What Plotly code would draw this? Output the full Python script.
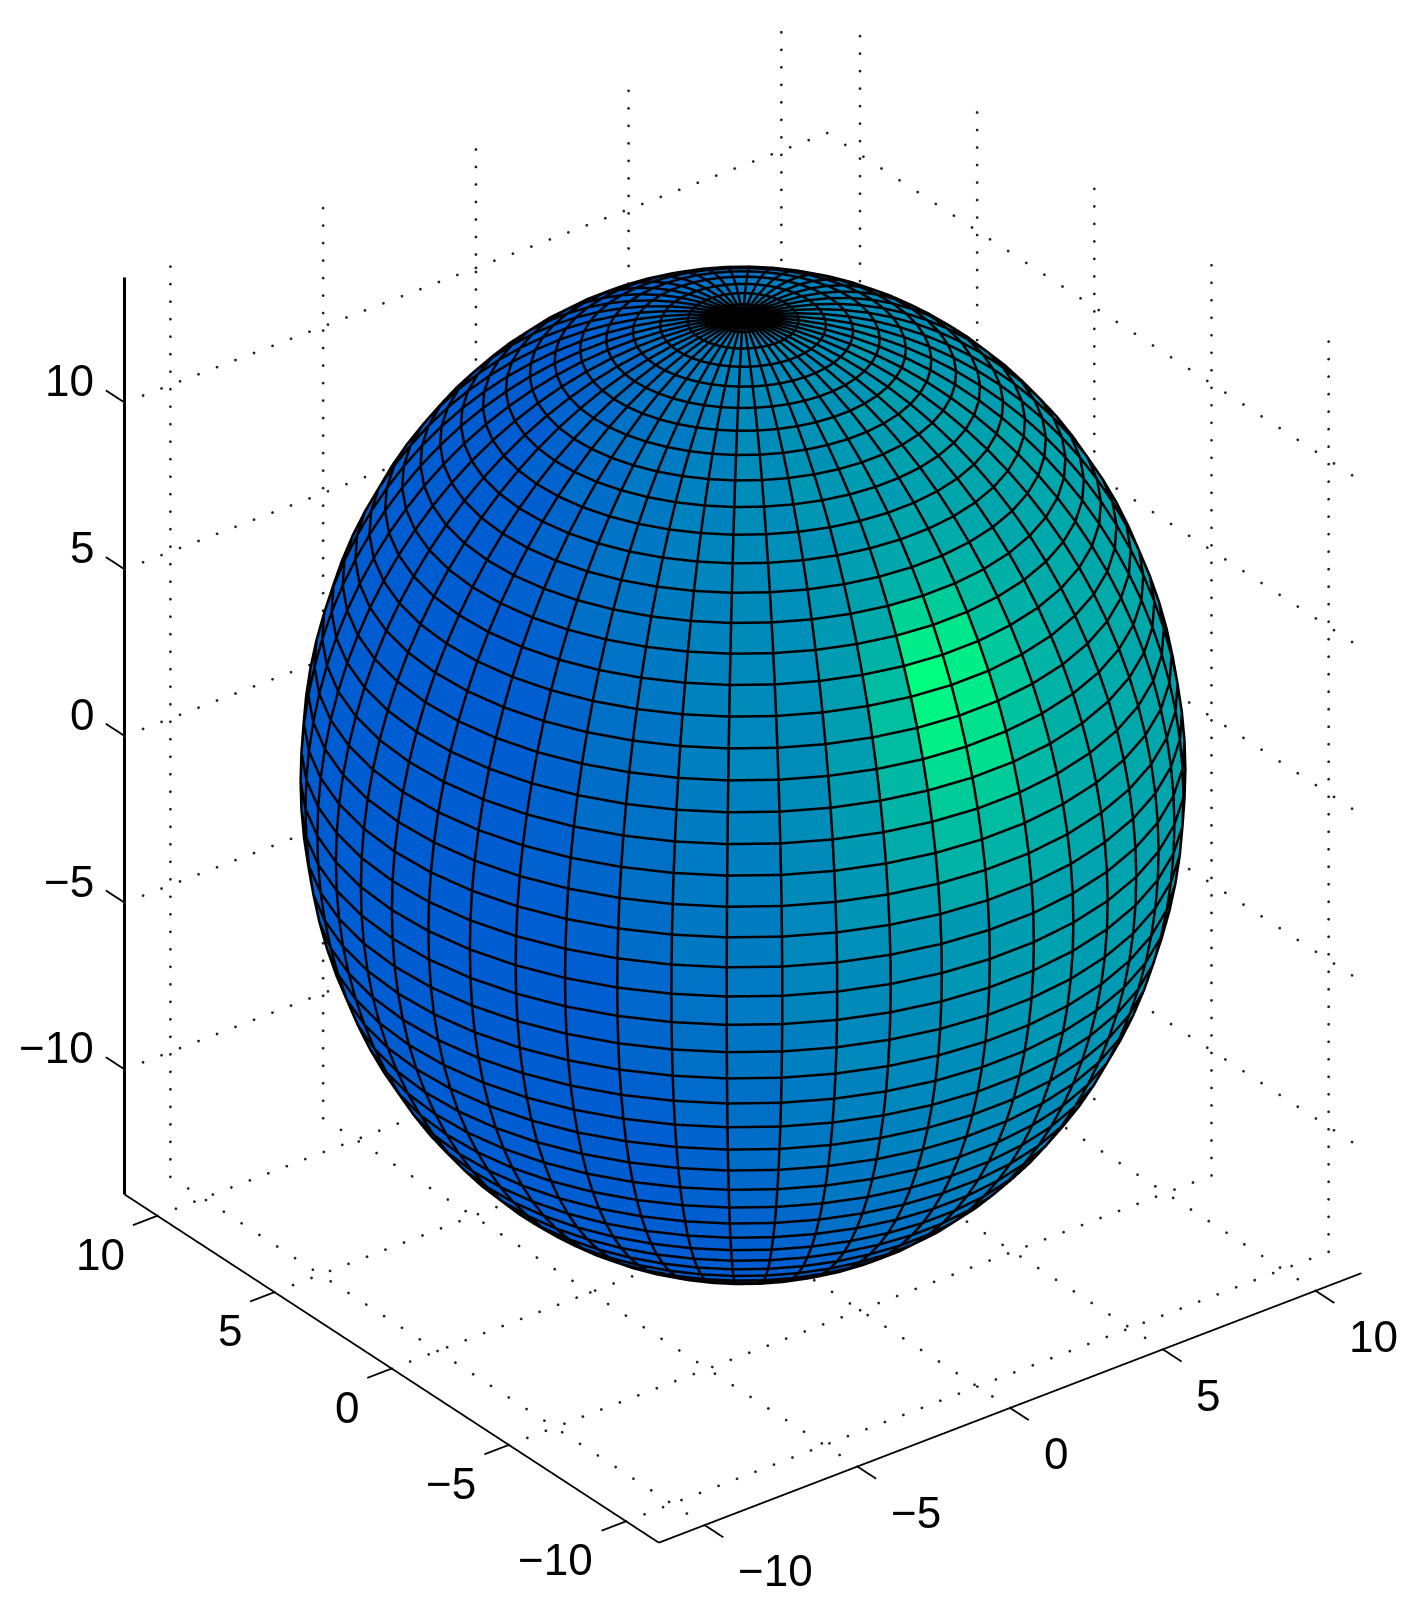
import plotly.graph_objects as go
import numpy as np

# Ellipsoid: sphere-style 50 x 50 lat/long mesh.
LONGITUDES_DEG = [-180,-172.8,-165.6,-158.4,-151.2,-144,-136.8,-129.6,-122.4,-115.2,-108,-100.8,-93.6,-86.4,-79.2,-72,-64.8,-57.6,-50.4,-43.2,-36,-28.8,-21.6,-14.4,-7.2,0,7.2,14.4,21.6,28.8,36,43.2,50.4,57.6,64.8,72,79.2,86.4,93.6,100.8,108,115.2,122.4,129.6,136.8,144,151.2,158.4,165.6,172.8,180]
LATITUDES_DEG = [90,86.4,82.8,79.2,75.6,72,68.4,64.8,61.2,57.6,54,50.4,46.8,43.2,39.6,36,32.4,28.8,25.2,21.6,18,14.4,10.8,7.2,3.6,0,-3.6,-7.2,-10.8,-14.4,-18,-21.6,-25.2,-28.8,-32.4,-36,-39.6,-43.2,-46.8,-50.4,-54,-57.6,-61.2,-64.8,-68.4,-72,-75.6,-79.2,-82.8,-86.4,-90]
RADIUS_XY = 11.46
RADIUS_Z = 13.7

X_TICKS = [-10, -5, 0, 5, 10]
Y_TICKS = [-10, -5, 0, 5, 10]
Z_TICKS = [-10, -5, 0, 5, 10]
TICK_LABELS = {-10: "\u221210", -5: "\u22125", 0: "0", 5: "5", 10: "10"}
X_BOX = (-11.5, 11.5)
Y_BOX = (-11.4, 11.4)
Z_BOX = (-13.75, 13.75)

# Colour level (percent along the blue-to-green map), read per pair of rows / pair of columns.
SHADE_ROWS = [
 [49,49,50,50,51,51,51,52,52,52,52,51,51,50,50,49,49,48,48,48,48,48,48,48,48],
 [46,48,49,51,52,54,55,55,56,55,55,54,53,52,50,49,47,46,45,44,43,43,44,44,45],
 [44,46,49,51,54,56,57,58,59,59,58,56,55,52,50,47,45,43,41,40,39,39,39,40,42],
 [42,45,48,51,55,57,60,61,62,61,60,58,56,53,50,46,43,40,37,36,36,36,36,37,39],
 [39,43,47,51,55,59,61,63,64,63,62,60,57,53,49,45,41,37],
 [37,41,46,51,55,59,62,64,65,65,63,61,57,53,48,43,38],
 [36,39,45,50,55,60,63,65,66,66,64,61,57,52,47,42],
 [36,37,43,49,55,60,63,66,67,66,65,61,57,52,46,40],
 [36,36,42,48,54,59,63,66,67,67,65,61,56],
 [36,36,41,47,53,59,63,66,67,66,64,61],
 [36,36,39,46,52,58,62,65,66,66,63,60],
 [36,36,38,45,51,57,61,64,65,65,62,59],
 [36,36,36,43,50,55,60,63,64,63,61,57],
 [36,36,36,42,48,54,58,61,62,62,60],
 [36,36,36,40,46,52,56,59,60,60,58],
 [36,36,36,38,45,50,54,57,58,58,56],
 [36,36,36,37,43,48,52,54,56,55,53],
 [36,36,36,36,40,45,49,52,53,52,50],
 [36,36,36,36,38,43,46,48,49,49,47],
 [36,36,36,36,36,40,43,45,46,45,44],
 [36,36,36,36,36,37,39,41,42,42,40],
 [36,36,36,36,36,36,36,37,38,37,36],
 [36],[36],[36],
]
# Per-column levels across the blue edge: coarse rows 5..20, facet columns 1..12.
FINE_ROW_START = 5
FINE_COL_START = 1
FINE_ROWS = [
 [40,42,45,47,50,52,54,56,58,60,61,63],
 [38,40,44,46,49,51,54,56,59,61,62,64],
 [36,38,41,45,47,51,54,56,59,61,62,64],
 [36,37,40,44,46,50,53,55,58,60,62,64],
 [36,36,39,43,45,49,51,55,58,60,62,64],
 [36,36,38,40,44,48,50,54,57,59,61,63],
 [36,36,37,39,43,47,49,53,56,58,60,62],
 [36,36,36,37,41,45,48,52,54,56,59,61],
 [36,36,36,37,40,44,46,50,53,55,57,59],
 [36,36,36,36,38,42,44,48,51,53,55,57],
 [36,36,36,36,37,39,43,47,49,51,53,55],
 [36,36,36,36,36,38,41,45,47,49,51,53],
 [36,36,36,36,36,37,39,41,44,46,48,50],
 [36,36,36,36,36,36,37,39,42,44,45,47],
 [36,36,36,36,36,36,36,37,39,41,42,44],
 [36,36,36,36,36,36,36,36,36,38,38,40],
]
# Single-facet levels around the bright spot: rows 10..22 from the north, columns 9..14.
HOT_ROW_START = 10
HOT_COL_START = 9
HOT_ROWS = [
 [57,60,63,65,65,65],
 [58,62,65,67,67,66],
 [59,63,70,72,70,68],
 [60,66,83,80,73,69],
 [61,70,92,90,76,70],
 [62,74,100,93,78,71],
 [62,75,96,92,78,71],
 [62,74,94,88,76,70],
 [61,72,86,87,74,69],
 [61,71,80,80,72,68],
 [60,67,74,74,70,67],
 [59,64,70,70,68,67],
 [58,62,66,67,67,66],
]

AXIS_RANGE = [-20, 20]
ASPECT = 1.925
CAM_DIST = 2.0
CAM_CENTER = (-0.04365, 0.00777, -0.03534)
VIEW_DIR = np.array([-0.527, -0.687, 0.5])

lon = np.radians(LONGITUDES_DEG)
lat = np.radians(LATITUDES_DEG)
nrow, ncol = len(lat), len(lon)
LON, LAT = np.meshgrid(lon, lat)
X = RADIUS_XY * np.cos(LAT) * np.cos(LON)
Y = RADIUS_XY * np.cos(LAT) * np.sin(LON)
Z = RADIUS_Z * np.sin(LAT)

def level(k, f):
    hk, hf = k - HOT_ROW_START, f - HOT_COL_START
    if 0 <= hk < len(HOT_ROWS) and 0 <= hf < len(HOT_ROWS[0]):
        return HOT_ROWS[hk][hf]
    fk, ff = k // 2 - FINE_ROW_START, f - FINE_COL_START
    if 0 <= fk < len(FINE_ROWS) and 0 <= ff < len(FINE_ROWS[0]):
        return FINE_ROWS[fk][ff]
    row = SHADE_ROWS[k // 2]
    b = ((f + 1) // 2) % 25
    return row[b] if b < len(row) else 36

I, J, K, cell = [], [], [], []
for k in range(nrow - 1):
    for f in range(ncol - 1):
        a, b, c, d = k * ncol + f, k * ncol + f + 1, (k + 1) * ncol + f + 1, (k + 1) * ncol + f
        lv = level(k, f)
        I += [a, a]; J += [b, c]; K += [c, d]; cell += [lv, lv]

fig = go.Figure()
fig.add_trace(go.Mesh3d(x=X.ravel(), y=Y.ravel(), z=Z.ravel(), i=I, j=J, k=K,
    intensity=cell, intensitymode="cell", cmin=0, cmax=100,
    colorscale=[[0, "rgb(0,0,255)"], [1, "rgb(0,255,128)"]], showscale=False,
    flatshading=True,
    lighting=dict(ambient=1, diffuse=0, specular=0, roughness=1, fresnel=0),
    hoverinfo="skip"))

# mesh lines, very slightly above the facets
OFF = 1.003
lx, ly, lz = [], [], []
for m in range(nrow):
    lx += list(X[m] * OFF) + [None]; ly += list(Y[m] * OFF) + [None]; lz += list(Z[m] * OFF) + [None]
for n in range(ncol - 1):
    lx += list(X[:, n] * OFF) + [None]; ly += list(Y[:, n] * OFF) + [None]; lz += list(Z[:, n] * OFF) + [None]
fig.add_trace(go.Scatter3d(x=lx, y=ly, z=lz, mode="lines", line=dict(color="black", width=5), hoverinfo="skip"))

# dotted grid on the floor and the two back walls
DOT_Z = 0.52
gx, gy, gz = [], [], []
def dots(p0, p1, step):
    p0, p1 = np.array(p0, float), np.array(p1, float)
    n = int(np.linalg.norm(p1 - p0) / step)
    for t in range(n + 1):
        q = p0 + (p1 - p0) * t / n
        gx.append(q[0]); gy.append(q[1]); gz.append(q[2])
x0, x1 = X_BOX; y0, y1 = Y_BOX; z0, z1 = Z_BOX
for t in X_TICKS:
    dots((t, y0, z0), (t, y1, z0), 0.75)
    dots((t, y1, z0), (t, y1, z1 - 0.2), DOT_Z)
for t in Y_TICKS:
    dots((x0, t, z0), (x1, t, z0), 0.6)
    dots((x1, t, z0), (x1, t, z1 - 0.2), DOT_Z)
for t in Z_TICKS:
    dots((x0, y1, t), (x1, y1, t), 0.6)
    dots((x1, y0 + 0.4, t), (x1, y1, t), 0.75)
fig.add_trace(go.Scatter3d(x=gx, y=gy, z=gz, mode="markers", marker=dict(color="#222222", size=1.6), hoverinfo="skip"))

# axis lines and ticks
def seg(a, b, width):
    fig.add_trace(go.Scatter3d(x=[a[0], b[0]], y=[a[1], b[1]], z=[a[2], b[2]], mode="lines",
        line=dict(color="black", width=width), hoverinfo="skip"))
seg((x0, y0, z0), (x1, y0, z0), 3.6)
seg((x0, y0, z0), (x0, y1, z0), 3.6)
seg((x0, y1, z0), (x0, y1, z1), 6)
TICK_LEN = 0.8
ann = []
FONT = dict(family="Liberation Sans", size=44, color="black")
for t in X_TICKS:
    seg((t, y0, z0), (t, y0 - TICK_LEN, z0), 3.6)
    ann.append(dict(x=t - 0.8, y=y0 - 2.39, z=z0, text=TICK_LABELS[t], showarrow=False, xanchor="left", yanchor="middle", font=FONT))
for t in Y_TICKS:
    seg((x0, t, z0), (x0 - TICK_LEN, t, z0), 3.6)
    ann.append(dict(x=x0 - 1.85, y=t - 1.1, z=z0, text=TICK_LABELS[t], showarrow=False, xanchor="right", yanchor="middle", font=FONT))
for t in Z_TICKS:
    seg((x0, y1, t), (x0, y1 + TICK_LEN, t), 3.6)
    ann.append(dict(x=x0, y=y1 + 1.2, z=t + 0.1, text=TICK_LABELS[t], showarrow=False, xanchor="right", yanchor="middle", font=FONT))

hidden = dict(visible=False, range=AXIS_RANGE, autorange=False)
c = np.array(CAM_CENTER, float)
e = c + CAM_DIST * VIEW_DIR
fig.update_layout(
    width=1407, height=1600, margin=dict(l=0, r=0, t=0, b=0),
    paper_bgcolor="white", showlegend=False,
    scene=dict(
        domain=dict(x=[0, 1], y=[0, 1]),
        xaxis=hidden, yaxis=hidden, zaxis=hidden,
        aspectmode="manual",
        aspectratio=dict(x=ASPECT, y=ASPECT, z=ASPECT),
        annotations=ann,
        camera=dict(projection=dict(type="orthographic"),
                    up=dict(x=0, y=0, z=1),
                    center=dict(x=c[0], y=c[1], z=c[2]),
                    eye=dict(x=e[0], y=e[1], z=e[2])),
    ),
)
fig.write_html("out.html")
